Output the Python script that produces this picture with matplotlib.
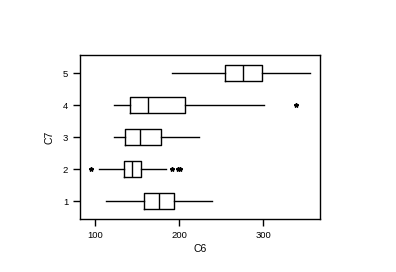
import matplotlib
matplotlib.use("Agg")
import matplotlib.pyplot as plt

plt.rcParams['font.family'] = ['Liberation Sans', 'DejaVu Sans']

# C7 groups and C6 box statistics
groups = [1, 2, 3, 4, 5]
whislo = [113.5, 105, 122, 122, 192]
q1 = [158, 134, 136, 142, 254]
med = [176, 143.5, 153, 163.5, 276.5]
q3 = [193.5, 155, 178, 207.5, 298.5]
whishi = [239, 184.5, 223.5, 301, 355.5]
fliers = [[], [95.5, 191.5, 199, 201], [], [339.5], []]

stats = []
for i in range(len(groups)):
    stats.append(dict(whislo=whislo[i], q1=q1[i], med=med[i], q3=q3[i],
                      whishi=whishi[i], fliers=fliers[i]))

fig = plt.figure(figsize=(3.96, 2.72), dpi=100)
ax = fig.add_axes([0.202, 0.195, 0.606, 0.603])

lp = dict(color='black', linewidth=1)
ax.bxp(stats, positions=groups, vert=False, widths=0.5, showcaps=False,
       boxprops=lp, whiskerprops=lp, medianprops=lp,
       flierprops=dict(marker='*', markersize=3.2, markerfacecolor='black',
                       markeredgecolor='black', linestyle='none'))

ax.set_xlim(82, 367.5)
ax.set_ylim(0.44, 5.58)
ax.set_xticks([100, 200, 300])
ax.set_yticks(groups)
ax.tick_params(axis='both', labelsize=6.8, length=5, width=1, direction='out')
for s in ax.spines.values():
    s.set_linewidth(1)

ax.set_xlabel('C6', fontsize=7.5, labelpad=3)
ax.set_ylabel('C7', fontsize=7.5, labelpad=6)

fig.savefig('out.png', dpi=100)
